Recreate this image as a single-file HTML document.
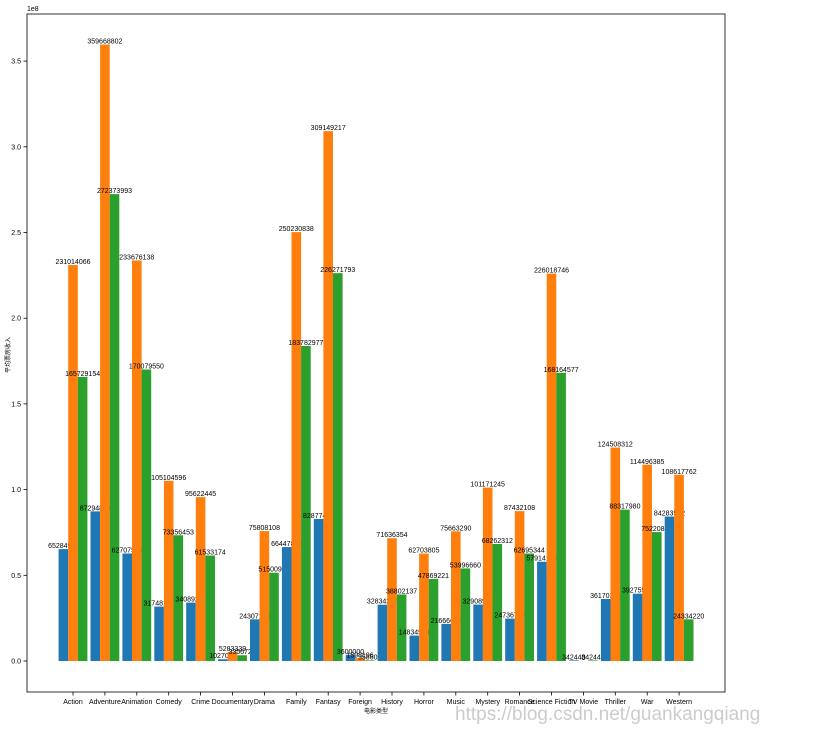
<!DOCTYPE html>
<html><head><meta charset="utf-8"><style>
body{margin:0;background:#fff;width:815px;height:733px;overflow:hidden;font-family:"Liberation Sans","Noto Sans CJK SC",sans-serif}
svg text{font-family:"Liberation Sans","Noto Sans CJK SC",sans-serif}
</style></head><body>
<svg id="chart" width="815" height="733" xmlns="http://www.w3.org/2000/svg"></svg>
<script>
const categories=["Action","Adventure","Animation","Comedy","Crime","Documentary","Drama","Family","Fantasy","Foreign","History","Horror","Music","Mystery","Romance","Science Fiction","TV Movie","Thriller","War","Western"];
const seriesA=[65284911,87294808,62707579,31748142,34089271,1027043,24307140,66447860,82877424,3600000,32834217,14834584,21666630,32908932,24736763,57914169,342440,36170331,39275532,84283542];
const seriesB=[231014066,359668802,233676138,105104596,95622445,5283339,75808108,250230838,309149217,1598196,71636354,62703805,75663290,101171245,87432108,226018746,0,124508312,114496385,108617762];
const seriesC=[165729154,272373993,170079550,73356453,61533174,3356722,51500960,183782977,226271793,358605,38802137,47869221,53996660,68262312,62695344,168164577,342440,88317980,75220812,24334220];
const yTicks=[0,0.5,1.0,1.5,2.0,2.5,3.0,3.5];
const colors=["#1f77b4","#ff7f0e","#2ca02c"];
const svg=document.getElementById('chart');
const NS="http://www.w3.org/2000/svg";
const L=27,R=725,T=14,B=692;
const y0=661,pxPer=171.4/1e8;
function yS(v){return y0-v*pxPer;}
function xS(i){return 73+i*31.9;}
const bw=9.6;
function mk(tag,attrs,parent){const e=document.createElementNS(NS,tag);for(const k in attrs)e.setAttribute(k,attrs[k]);(parent||svg).appendChild(e);return e;}
const frame=mk('rect',{x:L,y:T,width:R-L,height:B-T,fill:'none',stroke:'#000','stroke-width':0.8});


yTicks.forEach(t=>{
 const y=yS(t*1e8);
 const ln=mk('line',{x1:L-3.5,x2:L,y1:y,y2:y,stroke:'#000','stroke-width':0.8});
 
 
 const tx=mk('text',{x:L-6,y:y+2.5,'text-anchor':'end','font-size':7,fill:'#000'});
 tx.textContent=t.toFixed(1);
 
 
});
const ex=mk('text',{x:L,y:T-3,'font-size':7,fill:'#000'});ex.textContent='1e8';


const series=[seriesA,seriesB,seriesC];
categories.forEach((c,i)=>{
 const cx=xS(i);
 series.forEach((s,k)=>{
  const v=s[i];const left=cx+(k-1)*bw-bw/2;
  const top=yS(v);
  const r=mk('rect',{x:left,y:Math.min(top,y0),width:bw,height:Math.abs(y0-top),fill:colors[k]});
  
  
  const lb=mk('text',{x:left+bw/2,y:top-1,'text-anchor':'middle','font-size':7,fill:'#000'});
  lb.textContent=String(v);
  
  
 });
 const tk=mk('line',{x1:cx,x2:cx,y1:B,y2:B+3.5,stroke:'#000','stroke-width':0.8});
 
 
 const tl=mk('text',{x:cx,y:B+12,'text-anchor':'middle','font-size':7,fill:'#000'});
 tl.textContent=c;
 
 
});
const xt=mk('text',{x:376,y:713,'text-anchor':'middle','font-size':6,fill:'#000'});xt.textContent='电影类型';


const yt=mk('text',{x:10,y:355,'text-anchor':'middle','font-size':6,fill:'#000',transform:'rotate(-90 10 355)'});yt.textContent='平均票房收入';


const wm=mk('text',{x:455,y:720,'font-size':19,fill:'#ccc','font-family':'Liberation Serif, serif'});wm.textContent='https://blog.csdn.net/guankangqiang';


</script>
</body></html>
